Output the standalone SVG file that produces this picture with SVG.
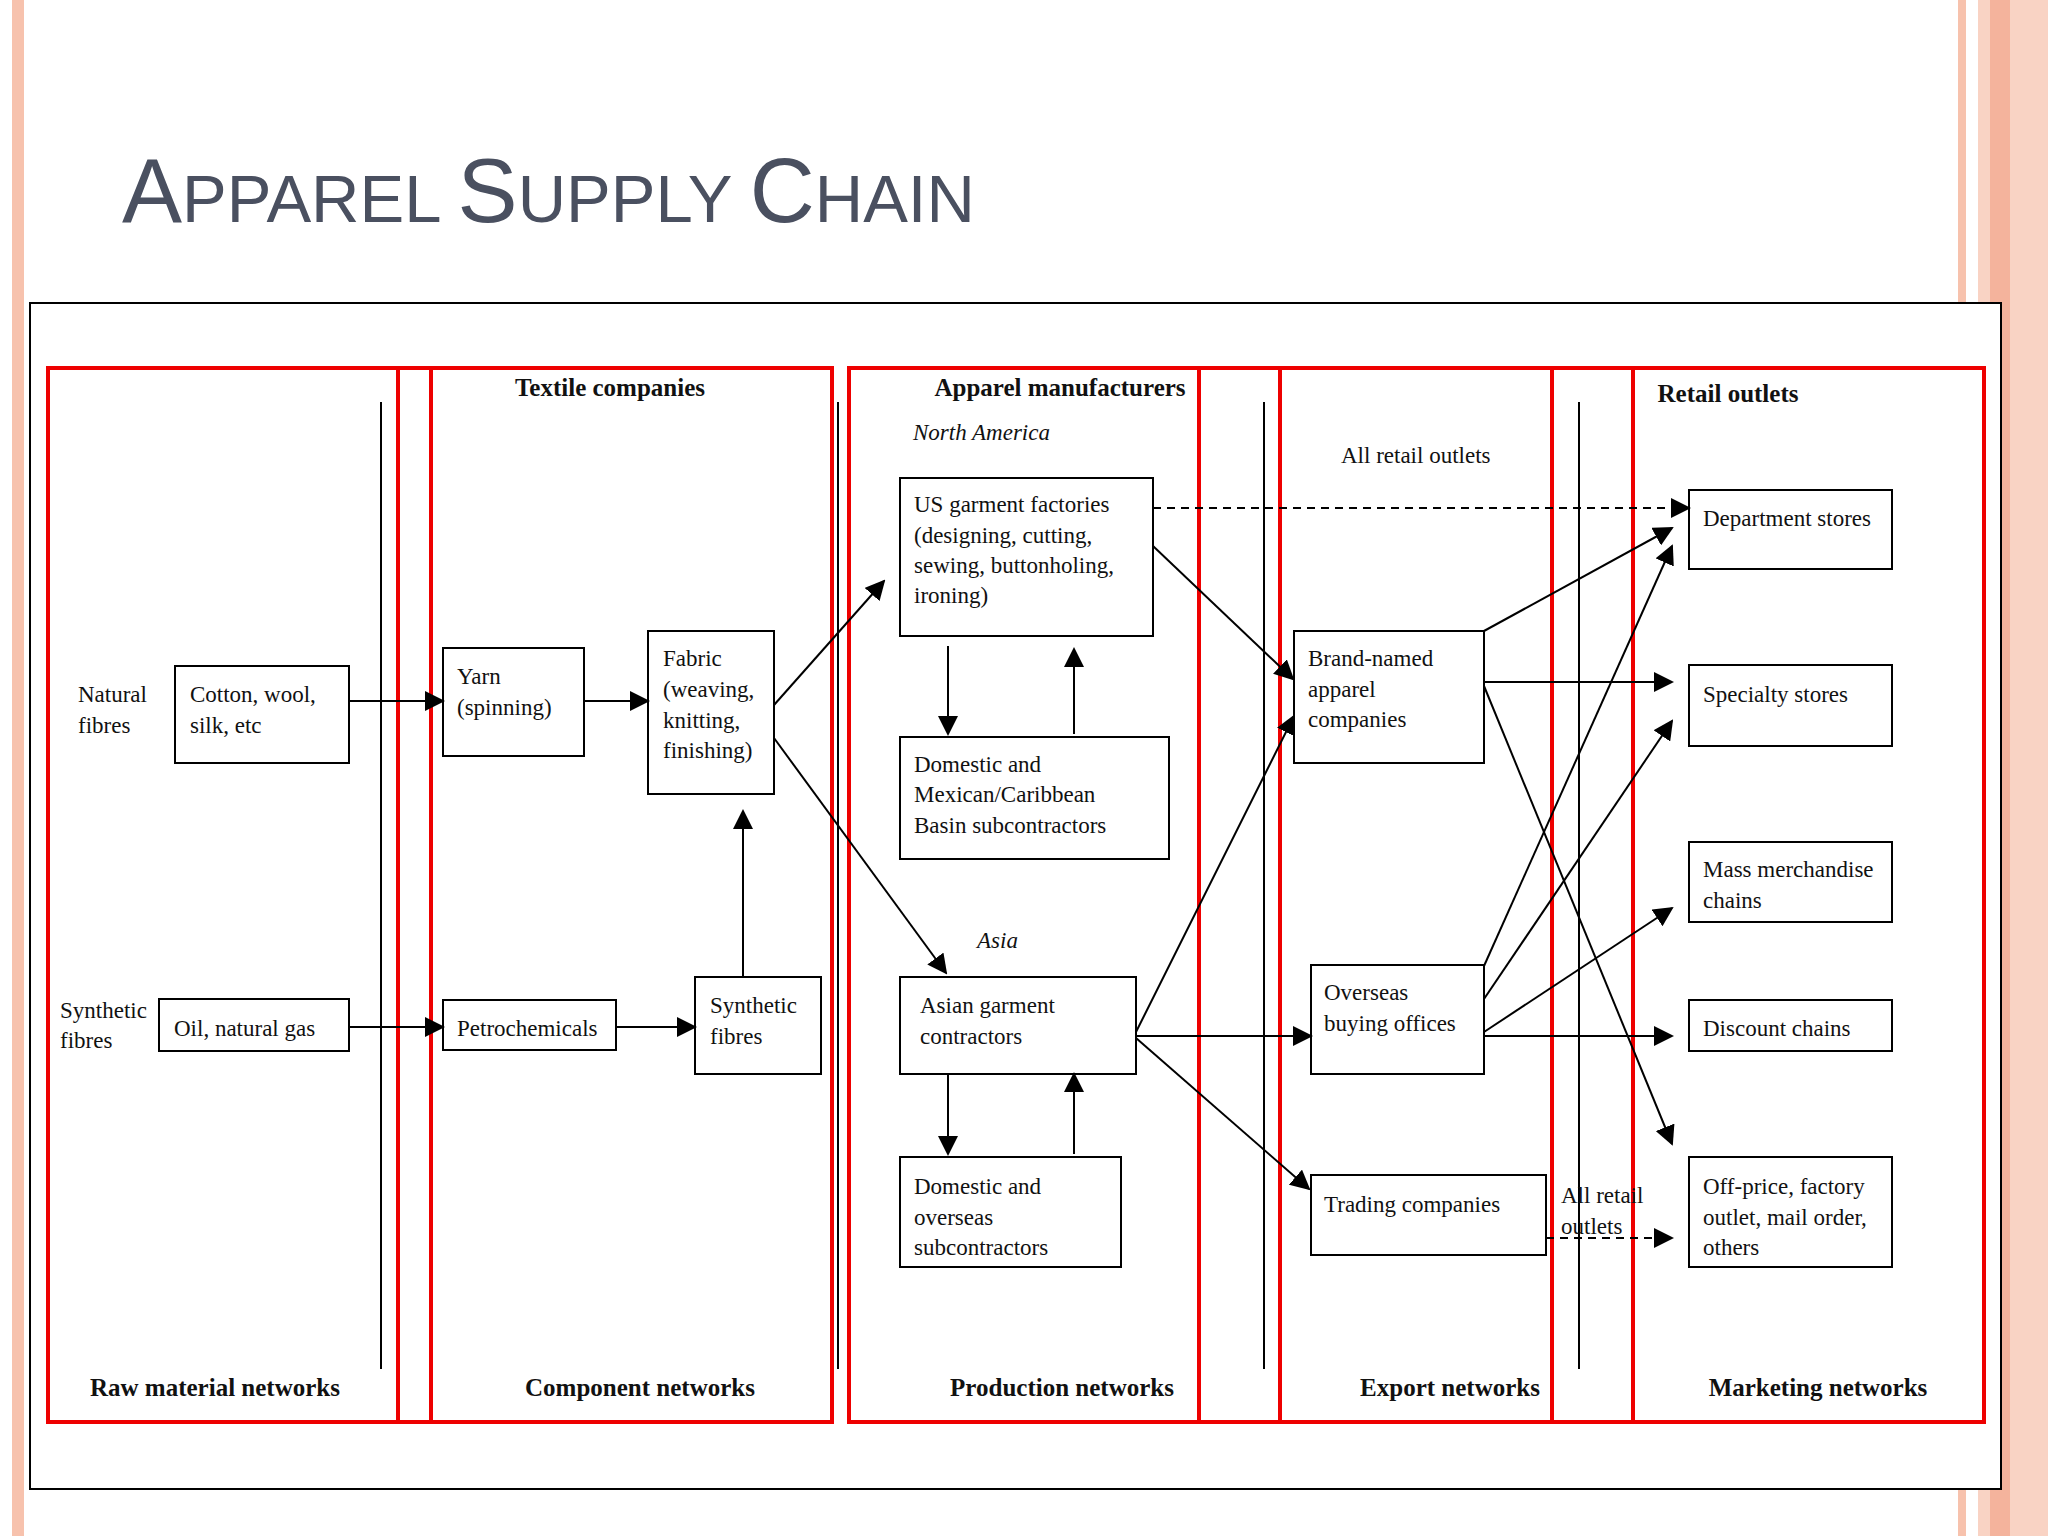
<svg xmlns="http://www.w3.org/2000/svg" width="2048" height="1536" viewBox="0 0 2048 1536">
<defs>
<style>
.t{font-family:"Liberation Serif",serif;font-size:23px;fill:#111}
.h{font-family:"Liberation Serif",serif;font-size:25px;font-weight:bold;fill:#111}
.i{font-style:italic}
.b{fill:#fff;stroke:#000;stroke-width:2}
.r{fill:none;stroke:#e00;stroke-width:4}
.v{stroke:#000;stroke-width:2}
.c line{stroke:#000;stroke-width:2;marker-end:url(#a2)}
.d{stroke-dasharray:8 6}
</style>
<marker id="a2" viewBox="0 0 10 10" refX="9" refY="5" markerWidth="20" markerHeight="20" orient="auto" markerUnits="userSpaceOnUse"><path d="M0,0L10,5L0,10z" fill="#000"/></marker>
</defs>
<rect width="2048" height="1536" fill="#fff"/>
<rect x="12" y="0" width="12" height="1536" fill="#f7c2ad"/>
<rect x="1958" y="0" width="8" height="1536" fill="#f7c2ad"/>
<rect x="1978" y="0" width="70" height="1536" fill="#f9d3c4"/>
<rect x="1990" y="0" width="20" height="1536" fill="#f4b39c"/>
<text x="122" y="222" font-family="Liberation Sans,sans-serif" fill="#4a5060" font-size="90">A<tspan font-size="67">PPAREL </tspan>S<tspan font-size="67">UPPLY </tspan>C<tspan font-size="67">HAIN</tspan></text>
<rect x="30" y="303" width="1971" height="1186" fill="#fff" stroke="#000" stroke-width="2"/>
<g id="lanes">
<rect class="r" x="48" y="368" width="350" height="1054"/>
<rect class="r" x="398" y="368" width="33" height="1054"/>
<rect class="r" x="431" y="368" width="401" height="1054"/>
<rect class="r" x="849" y="368" width="350" height="1054"/>
<rect class="r" x="1199" y="368" width="81" height="1054"/>
<rect class="r" x="1280" y="368" width="272" height="1054"/>
<rect class="r" x="1552" y="368" width="81" height="1054"/>
<rect class="r" x="1633" y="368" width="351" height="1054"/>
<line class="v" x1="381" y1="402" x2="381" y2="1369"/>
<line class="v" x1="838" y1="402" x2="838" y2="1369"/>
<line class="v" x1="1264" y1="402" x2="1264" y2="1369"/>
<line class="v" x1="1579" y1="402" x2="1579" y2="1369"/>
</g>
<g id="labels">
<text class="h" x="610" y="396" text-anchor="middle">Textile companies</text>
<text class="h" x="1060" y="396" text-anchor="middle">Apparel manufacturers</text>
<text class="h" x="1728" y="402" text-anchor="middle">Retail outlets</text>
<text class="t i" x="913" y="440">North America</text>
<text class="t i" x="977" y="948">Asia</text>
<text class="t" x="1341" y="463">All retail outlets</text>
<text class="t" x="1561" y="1203">All retail</text>
<text class="t" x="1561" y="1234">outlets</text>
<text class="t" x="78" y="702">Natural</text><text class="t" x="78" y="733">fibres</text>
<text class="t" x="60" y="1018">Synthetic</text><text class="t" x="60" y="1048">fibres</text>
<text class="h" x="215" y="1396" text-anchor="middle">Raw material networks</text>
<text class="h" x="640" y="1396" text-anchor="middle">Component networks</text>
<text class="h" x="1062" y="1396" text-anchor="middle">Production networks</text>
<text class="h" x="1450" y="1396" text-anchor="middle">Export networks</text>
<text class="h" x="1818" y="1396" text-anchor="middle">Marketing networks</text>
</g>
<g id="cotton"><rect class="b" x="175" y="666" width="174" height="97"/><text class="t" x="190" y="702">Cotton, wool,</text><text class="t" x="190" y="733">silk, etc</text></g>
<g id="oil"><rect class="b" x="159" y="999" width="190" height="52"/><text class="t" x="174" y="1036">Oil, natural gas</text></g>
<g id="yarn"><rect class="b" x="443" y="648" width="141" height="108"/><text class="t" x="457" y="684">Yarn</text><text class="t" x="457" y="715">(spinning)</text></g>
<g id="fabric"><rect class="b" x="648" y="631" width="126" height="163"/><text class="t" x="663" y="666">Fabric</text><text class="t" x="663" y="697">(weaving,</text><text class="t" x="663" y="728">knitting,</text><text class="t" x="663" y="758">finishing)</text></g>
<g id="petro"><rect class="b" x="443" y="1000" width="173" height="50"/><text class="t" x="457" y="1036">Petrochemicals</text></g>
<g id="synth"><rect class="b" x="695" y="977" width="126" height="97"/><text class="t" x="710" y="1013">Synthetic</text><text class="t" x="710" y="1044">fibres</text></g>
<g id="us"><rect class="b" x="900" y="478" width="253" height="158"/><text class="t" x="914" y="512">US garment factories</text><text class="t" x="914" y="543">(designing, cutting,</text><text class="t" x="914" y="573">sewing, buttonholing,</text><text class="t" x="914" y="603">ironing)</text></g>
<g id="mex"><rect class="b" x="900" y="737" width="269" height="122"/><text class="t" x="914" y="772">Domestic and</text><text class="t" x="914" y="802">Mexican/Caribbean</text><text class="t" x="914" y="833">Basin subcontractors</text></g>
<g id="asian"><rect class="b" x="900" y="977" width="236" height="97"/><text class="t" x="920" y="1013">Asian garment</text><text class="t" x="920" y="1044">contractors</text></g>
<g id="dom"><rect class="b" x="900" y="1157" width="221" height="110"/><text class="t" x="914" y="1194">Domestic and</text><text class="t" x="914" y="1225">overseas</text><text class="t" x="914" y="1255">subcontractors</text></g>
<g id="brand"><rect class="b" x="1294" y="631" width="190" height="132"/><text class="t" x="1308" y="666">Brand-named</text><text class="t" x="1308" y="697">apparel</text><text class="t" x="1308" y="727">companies</text></g>
<g id="overseas"><rect class="b" x="1311" y="965" width="173" height="109"/><text class="t" x="1324" y="1000">Overseas</text><text class="t" x="1324" y="1031">buying offices</text></g>
<g id="trading"><rect class="b" x="1311" y="1175" width="235" height="80"/><text class="t" x="1324" y="1212">Trading companies</text></g>
<g id="dept"><rect class="b" x="1689" y="490" width="203" height="79"/><text class="t" x="1703" y="526">Department stores</text></g>
<g id="spec"><rect class="b" x="1689" y="665" width="203" height="81"/><text class="t" x="1703" y="702">Specialty stores</text></g>
<g id="mass"><rect class="b" x="1689" y="842" width="203" height="80"/><text class="t" x="1703" y="877">Mass merchandise</text><text class="t" x="1703" y="908">chains</text></g>
<g id="disc"><rect class="b" x="1689" y="1000" width="203" height="51"/><text class="t" x="1703" y="1036">Discount chains</text></g>
<g id="off"><rect class="b" x="1689" y="1157" width="203" height="110"/><text class="t" x="1703" y="1194">Off-price, factory</text><text class="t" x="1703" y="1225">outlet, mail order,</text><text class="t" x="1703" y="1255">others</text></g>
<g id="connectors" class="c">
<line x1="349" y1="701" x2="443" y2="701"/>
<line x1="584" y1="701" x2="648" y2="701"/>
<line x1="349" y1="1027" x2="443" y2="1027"/>
<line x1="616" y1="1027" x2="695" y2="1027"/>
<line x1="743" y1="977" x2="743" y2="811"/>
<line x1="774" y1="705" x2="884" y2="581"/>
<line x1="774" y1="738" x2="946" y2="973"/>
<line x1="948" y1="646" x2="948" y2="734"/>
<line x1="1074" y1="734" x2="1074" y2="649"/>
<line x1="948" y1="1074" x2="948" y2="1154"/>
<line x1="1074" y1="1154" x2="1074" y2="1074"/>
<line x1="1153" y1="546" x2="1293" y2="679"/>
<line x1="1136" y1="1032" x2="1294" y2="716"/>
<line x1="1136" y1="1036" x2="1311" y2="1036"/>
<line x1="1136" y1="1038" x2="1309" y2="1189"/>
<line class="d" x1="1153" y1="508" x2="1689" y2="508"/>
<line x1="1484" y1="631" x2="1672" y2="528"/>
<line x1="1484" y1="682" x2="1672" y2="682"/>
<line x1="1484" y1="686" x2="1672" y2="1144"/>
<line x1="1484" y1="966" x2="1672" y2="546"/>
<line x1="1484" y1="999" x2="1672" y2="721"/>
<line x1="1484" y1="1032" x2="1672" y2="908"/>
<line x1="1484" y1="1036" x2="1672" y2="1036"/>
<line class="d" x1="1546" y1="1238" x2="1672" y2="1238"/>
</g>
</svg>
